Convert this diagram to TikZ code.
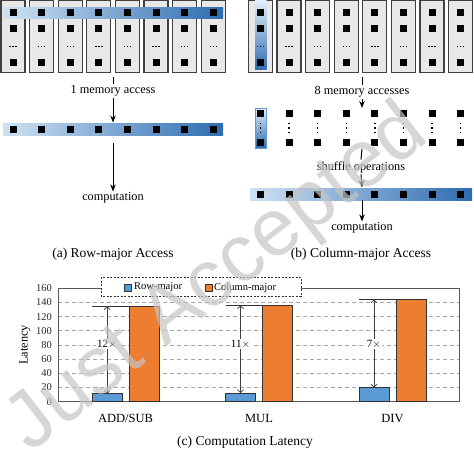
\documentclass[tikz,border=0pt]{standalone}
\usepackage{fontspec}
\setmainfont{Liberation Serif}
\newfontfamily\wmfont{Liberation Sans}
\usetikzlibrary{arrows.meta}
\definecolor{colfill}{HTML}{E8E8E8}
\definecolor{colline}{HTML}{404040}
\definecolor{bluelight}{HTML}{CFE2F3}
\definecolor{bluedark}{HTML}{2E6CB0}
\definecolor{barblue}{HTML}{5B9BD5}
\definecolor{barorange}{HTML}{ED7D31}
\definecolor{gridgray}{HTML}{A6A6A6}
\definecolor{axisgray}{HTML}{595959}
\definecolor{wmgray}{HTML}{C4C4C4}
\tikzset{
  colbox/.style={draw=colline, fill=colfill, line width=1.2pt},
  sq/.style={fill=black, inner sep=0pt, minimum size=7pt},
  dotsq/.style={fill=black, inner sep=0pt, minimum size=1.4pt},
  arr/.style={-{Stealth[length=7pt,width=5.5pt]}, line width=1pt},
  lbl/.style={font=\fontsize{12.3}{14}\selectfont, fill=white, inner sep=1.5pt},
  captxt/.style={font=\fontsize{13.5}{16}\selectfont, inner sep=0pt},
  gridline/.style={draw=gridgray, dashed, dash pattern=on 4pt off 3pt, line width=0.8pt},
  frame/.style={draw=axisgray, line width=1pt},
  rowbar/.style={fill=barblue, draw=black!80, line width=1pt},
  colbar/.style={fill=barorange, draw=black!80, line width=1pt},
  ticklbl/.style={font=\fontsize{10.5}{12}\selectfont, text=black!85, anchor=east, inner sep=0pt},
  catlbl/.style={font=\fontsize{12.5}{14}\selectfont, inner sep=0pt},
  ratio/.style={font=\fontsize{11}{13}\selectfont, fill=white, inner sep=1pt},
  dbl/.style={{Straight Barb[length=3pt,width=6pt]}-{Straight Barb[length=3pt,width=6pt]}, draw=black!75, line width=0.7pt},
  hline/.style={draw=black!80, line width=0.8pt},
  legbox/.style={draw=black!80, dashed, dash pattern=on 2pt off 1.5pt, fill=white, line width=0.9pt},
  legsq/.style={inner sep=0pt, minimum size=7pt, draw=black!80, line width=0.7pt},
  legtxt/.style={font=\fontsize{10.5}{12}\selectfont, anchor=west, inner sep=0pt}
}
\begin{document}
\begin{tikzpicture}[x=1pt,y=-1pt]
\useasboundingbox (0,0) rectangle (474,460);

% ---------- (a) Row-major ----------
\foreach \i in {0,...,7} {
  \draw[colbox] ({1+28.6*\i},0.8) rectangle ++(24,72);
}
\shade[left color=bluelight, right color=bluedark] (3,7.3) rectangle (223,18.3);
\foreach \i in {0,...,7} {
  \pgfmathsetmacro{\cx}{13+28.6*\i}
  \node[sq] (ar1\i) at (\cx,12.7) {};
  \node[sq] (ar2\i) at (\cx,29) {};
  \node[sq] (ar4\i) at (\cx,62.3) {};
  \foreach \d in {-3,0,3} { \node[dotsq] at (\cx+\d,46.7) {}; }
}
\coordinate (aTop) at (113,77);
\node[lbl] (amem) at (113,91) {1 memory access};
\draw[line width=1pt] (aTop) -- (amem.north);
\coordinate (aBandTop) at (113,122.5);
\draw[arr] (amem.south) -- (aBandTop);
\shade[left color=bluelight, right color=bluedark] (3,123) rectangle (223,135);
\foreach \i in {0,...,7} { \node[sq] (ab\i) at ({13+28.6*\i},129) {}; }
\coordinate (aBandBot) at (113,143);
\node[font=\fontsize{12.3}{14}\selectfont, inner sep=1pt] (acomp) at (113,198) {computation};
\draw[arr] (aBandBot) -- (acomp.north);
\node[captxt] (capa) at (113,254) {(a) Row-major Access};

% ---------- (b) Column-major ----------
\foreach \i in {0,...,7} {
  \draw[colbox] ({248.4+28.6*\i},0.8) rectangle ++(24,72);
}
\shade[top color=bluelight!60, bottom color=bluedark] (255,0.8) rectangle (266.7,70);
\foreach \i in {0,...,7} {
  \pgfmathsetmacro{\cx}{260.4+28.6*\i}
  \node[sq] (br1\i) at (\cx,12.7) {};
  \node[sq] (br2\i) at (\cx,29) {};
  \node[sq] (br4\i) at (\cx,62.3) {};
  \foreach \d in {-3,0,3} { \node[dotsq] at (\cx+\d,46.7) {}; }
}
\coordinate (bTop) at (362,77);
\node[lbl] (bmem) at (362,92) {8 memory accesses};
\draw[line width=1pt] (bTop) -- (bmem.north);
\coordinate (bRowTop) at (362,108);
\draw[arr] (bmem.south) -- (bRowTop);
\shade[top color=bluelight!60, bottom color=bluedark, draw=barblue, line width=0.6pt] (255,108) rectangle (266.7,148);
\foreach \i in {0,...,7} {
  \pgfmathsetmacro{\cx}{260.4+28.6*\i}
  \node[sq] (bm1\i) at (\cx,113.5) {};
  \node[sq] (bm2\i) at (\cx,142) {};
  \foreach \d in {123.5,128,132.5} { \node[dotsq] at (\cx,\d) {}; }
}
\coordinate (bShTop) at (362,149);
\node[lbl] (bshuf) at (361,167) {shuffle operations};
\draw[line width=1pt] (bShTop) -- (bshuf.north);
\coordinate (bBandTop) at (362,187.5);
\draw[arr] (bshuf.south) -- (bBandTop);
\shade[left color=bluelight, right color=bluedark] (250,188) rectangle (472,200);
\foreach \i in {0,...,7} { \node[sq] (bb\i) at ({260.4+28.6*\i},194) {}; }
\coordinate (bBandBot) at (362,200);
\node[font=\fontsize{12.3}{14}\selectfont, inner sep=1pt] (bcomp) at (362,228) {computation};
\draw[arr] (bBandBot) -- (bcomp.north);
\node[captxt] (capb) at (361,254) {(b) Column-major Access};

% ---------- (c) Chart ----------
\foreach \v in {20,40,...,140} {
  \draw[gridline] (58,{401.7-0.70875*\v}) -- (459,{401.7-0.70875*\v});
}
\draw[frame] (58,288.3) rectangle (459,401.7);
\foreach \v in {0,20,...,160} {
  \node[ticklbl] at (52,{401.7-0.70875*\v}) {\v};
}
\node[font=\fontsize{12.3}{14}\selectfont, rotate=90, inner sep=0pt] (ylab) at (25,345) {Latency};

\foreach \g/\r/\c/\lab/\rat [count=\k] in {125.5/11/135/ADD\slash SUB/12, 259/12/136/MUL/11, 392.5/20/144.5/DIV/7} {
  \draw[rowbar] ({\g-33.5},401.7) rectangle ({\g-3.5},{401.7-0.70875*\r});
  \draw[colbar] ({\g+3.5},401.7) rectangle ({\g+33.5},{401.7-0.70875*\c});
  \coordinate (top\k) at ({\g-18.5},{401.7-0.70875*\c});
  \coordinate (bot\k) at ({\g-18.5},{401.7-0.70875*\r});
  \coordinate (hl\k) at ({\g-33.5},{401.7-0.70875*\c});
  \coordinate (hr\k) at ({\g+3.5},{401.7-0.70875*\c});
  \draw[hline] (hl\k) -- (hr\k);
  \draw[dbl] (top\k) -- (bot\k);
  \node[ratio] (rat\k) at ({\g-18.5},344) {\rat$\times$};
  \node[catlbl] (cat\k) at (\g,418) {\lab};
}
\draw[legbox] (101,277) rectangle (301,296);
\node[legsq, fill=barblue] (lrow) at (127.5,287.5) {};
\node[legtxt] (lrowt) at (134,287.5) {Row-major};
\node[legsq, fill=barorange] (lcol) at (208.5,287.5) {};
\node[legtxt] (lcolt) at (214,287.5) {Column-major};
\node[captxt] (capc) at (245,442.5) {(c) Computation Latency};

% ---------- watermark ----------
\node[rotate=38, font=\wmfont\fontsize{81}{81}\selectfont, text=wmgray, opacity=0.7, inner sep=0pt] (wm) at (218,280) {Just Accepted};
\end{tikzpicture}
\end{document}
